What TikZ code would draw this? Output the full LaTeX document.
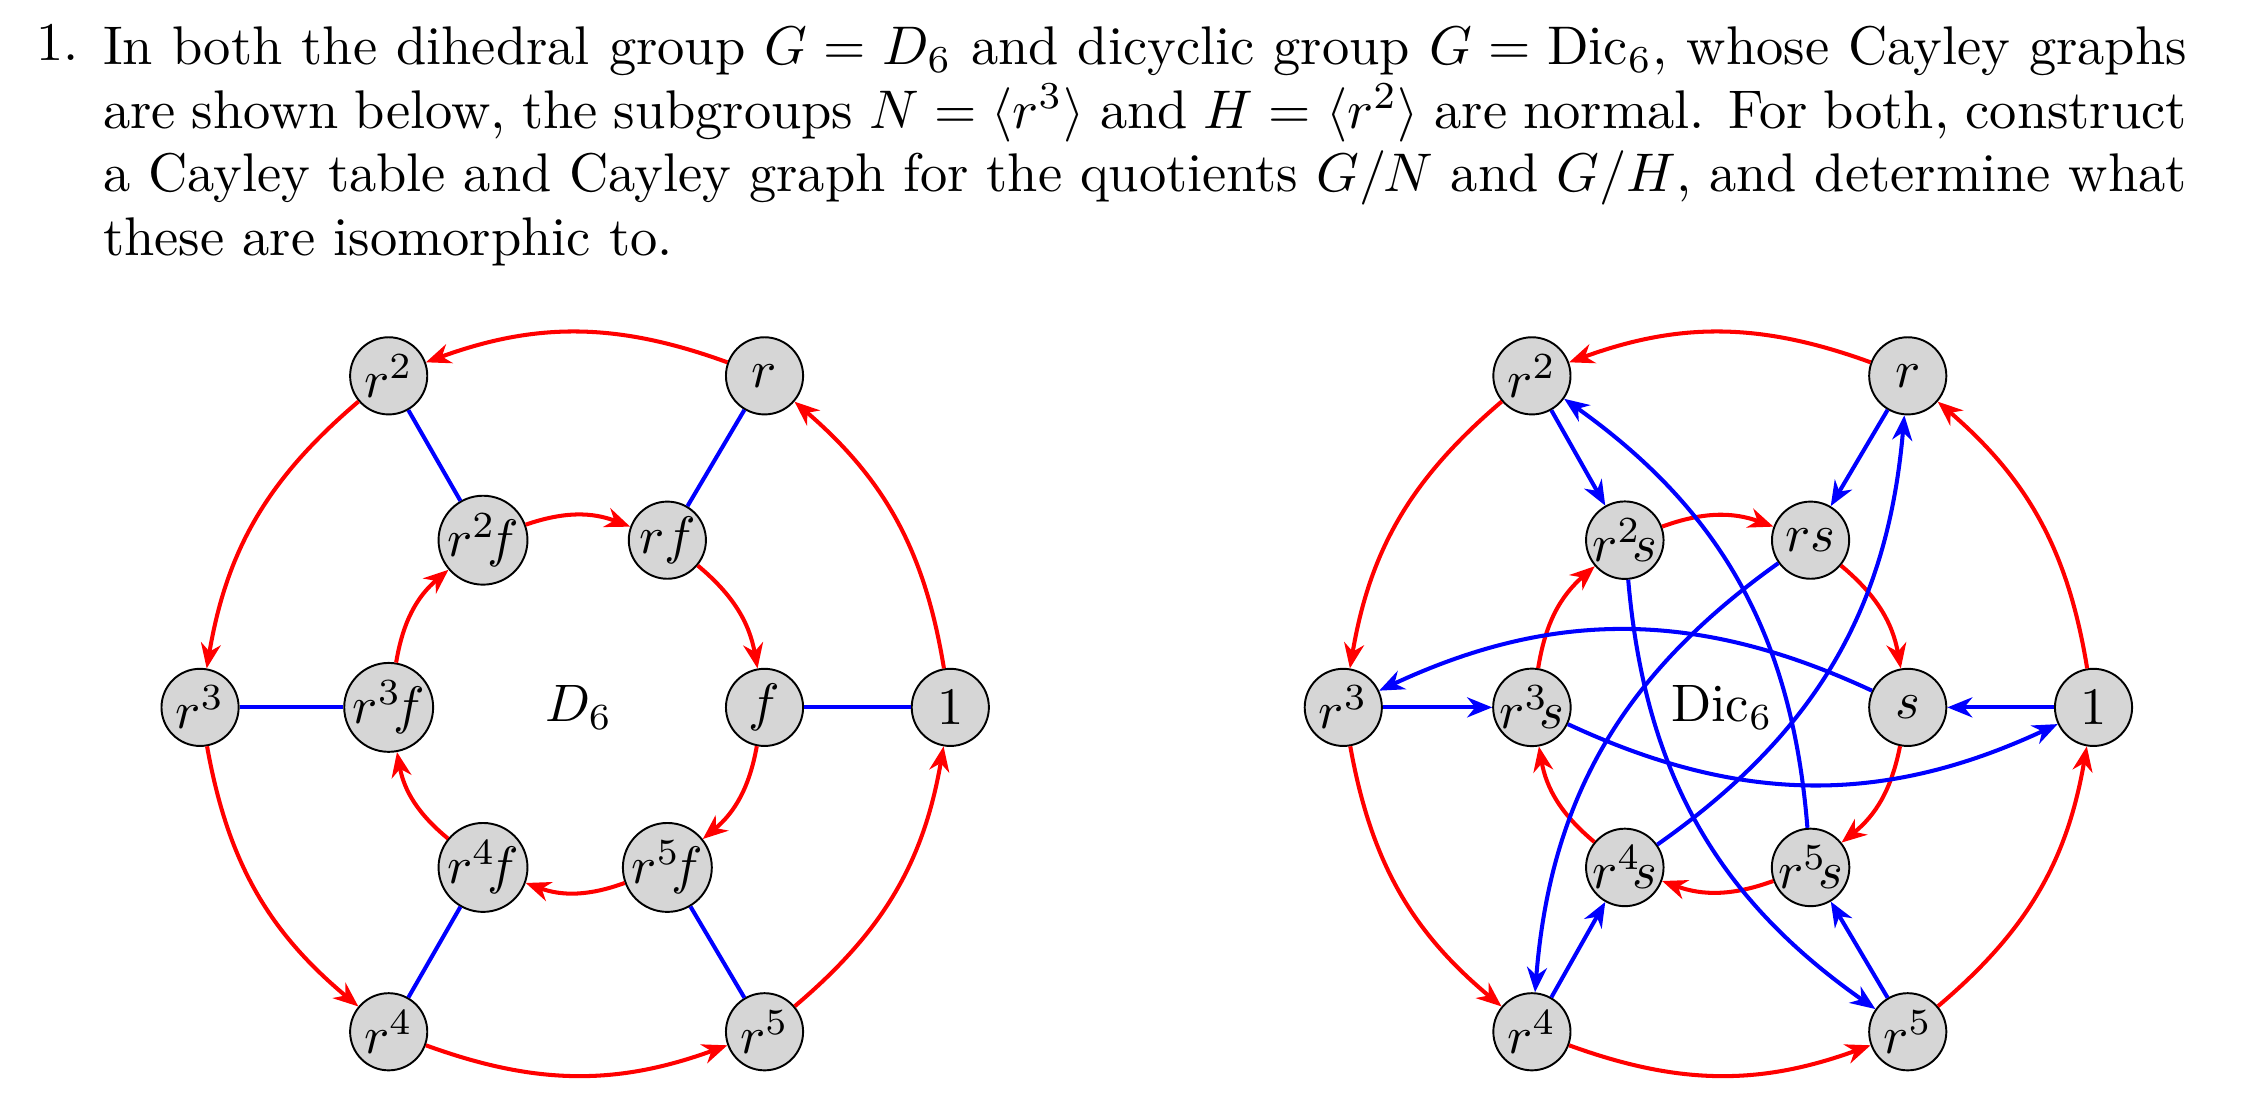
\documentclass[tikz,border=0pt]{standalone}
\usepackage{graphicx}
\usetikzlibrary{arrows.meta}
\newcommand{\mylab}[1]{\scalebox{3}{$#1$}}
\begin{document}
\begin{tikzpicture}[x=0.0286cm,y=-0.0286cm,
  v/.style={circle,draw=black,line width=1.1pt,fill=black!16,minimum size=54*0.0286cm,inner sep=0pt},
  rd/.style={draw=red,line width=2.3pt,-{Stealth[length=5mm,width=4mm,inset=1.6mm]}},
  bl/.style={draw=blue,line width=2.3pt},
  ba/.style={bl,-{Stealth[length=5mm,width=4mm,inset=1.6mm]}}]
\useasboundingbox (0,0) rectangle (1585,779);
\node[anchor=base west,inner sep=0pt] (num) at (25,42) {\scalebox{3.1}{1.}};
\node[anchor=north west,inner sep=0pt] (txt) at (72,18)
{\scalebox{3.1}{\parbox{13.45cm}{\fontsize{10}{11.7}\selectfont In both the dihedral group $G=D_6$ and dicyclic group $G=\mathrm{Dic}_6$, whose Cayley graphs are shown below, the subgroups $N=\langle r^3\rangle$ and $H=\langle r^2\rangle$ are normal. For both, construct a Cayley table and Cayley graph for the quotients $G/N$ and $G/H$, and determine what these are isomorphic to.}}};
% left graph
\node[v] (a2) at (272,263) {\mylab{r^2}};
\node[v] (a1) at (535,263) {\mylab{r}};
\node[v] (a3) at (140,495) {\mylab{r^3}};
\node[v] (a0) at (665,495) {\mylab{1}};
\node[v] (a4) at (272,722) {\mylab{r^4}};
\node[v] (a5) at (535,722) {\mylab{r^5}};
\node[v] (b2) at (338,378) {\mylab{r^2\!f}};
\node[v] (b1) at (467,378) {\mylab{rf}};
\node[v] (b3) at (272,495) {\mylab{r^3\!f}};
\node[v] (b0) at (535,495) {\mylab{f}};
\node[v] (b4) at (338,607) {\mylab{r^4\!f}};
\node[v] (b5) at (467,607) {\mylab{r^5\!f}};
\node (lab1) at (405,495) {\mylab{D_6}};
\foreach \s/\t in {a0/a1,a1/a2,a2/a3,a3/a4,a4/a5,a5/a0}
  \draw[rd] (\s) to[bend right=20] (\t);
\foreach \s/\t in {b2/b1,b1/b0,b0/b5,b5/b4,b4/b3,b3/b2}
  \draw[rd] (\s) to[bend left=20] (\t);
\foreach \s/\t in {a2/b2,a1/b1,a3/b3,a0/b0,a4/b4,a5/b5}
  \draw[bl] (\s) -- (\t);
% right graph
\node[v] (c2) at (1072,263) {\mylab{r^2}};
\node[v] (c1) at (1335,263) {\mylab{r}};
\node[v] (c3) at (940,495) {\mylab{r^3}};
\node[v] (c0) at (1465,495) {\mylab{1}};
\node[v] (c4) at (1072,722) {\mylab{r^4}};
\node[v] (c5) at (1335,722) {\mylab{r^5}};
\node[v] (d2) at (1137,378) {\mylab{r^2\!s}};
\node[v] (d1) at (1267,378) {\mylab{rs}};
\node[v] (d3) at (1072,495) {\mylab{r^3\!s}};
\node[v] (d0) at (1335,495) {\mylab{s}};
\node[v] (d4) at (1137,607) {\mylab{r^4\!s}};
\node[v] (d5) at (1267,607) {\mylab{r^5\!s}};
\node (lab2) at (1205,495) {\mylab{\mathrm{Dic}_6}};
\foreach \s/\t in {c0/c1,c1/c2,c2/c3,c3/c4,c4/c5,c5/c0}
  \draw[rd] (\s) to[bend right=20] (\t);
\foreach \s/\t in {d2/d1,d1/d0,d0/d5,d5/d4,d4/d3,d3/d2}
  \draw[rd] (\s) to[bend left=20] (\t);
\foreach \s/\t in {c2/d2,c1/d1,c3/d3,c0/d0,c4/d4,c5/d5}
  \draw[ba] (\s) -- (\t);
\foreach \s/\t in {d0/c3,d3/c0,d2/c5,d5/c2,d1/c4,d4/c1}
  \draw[ba] (\s) to[bend right=25] (\t);
\end{tikzpicture}
\end{document}
